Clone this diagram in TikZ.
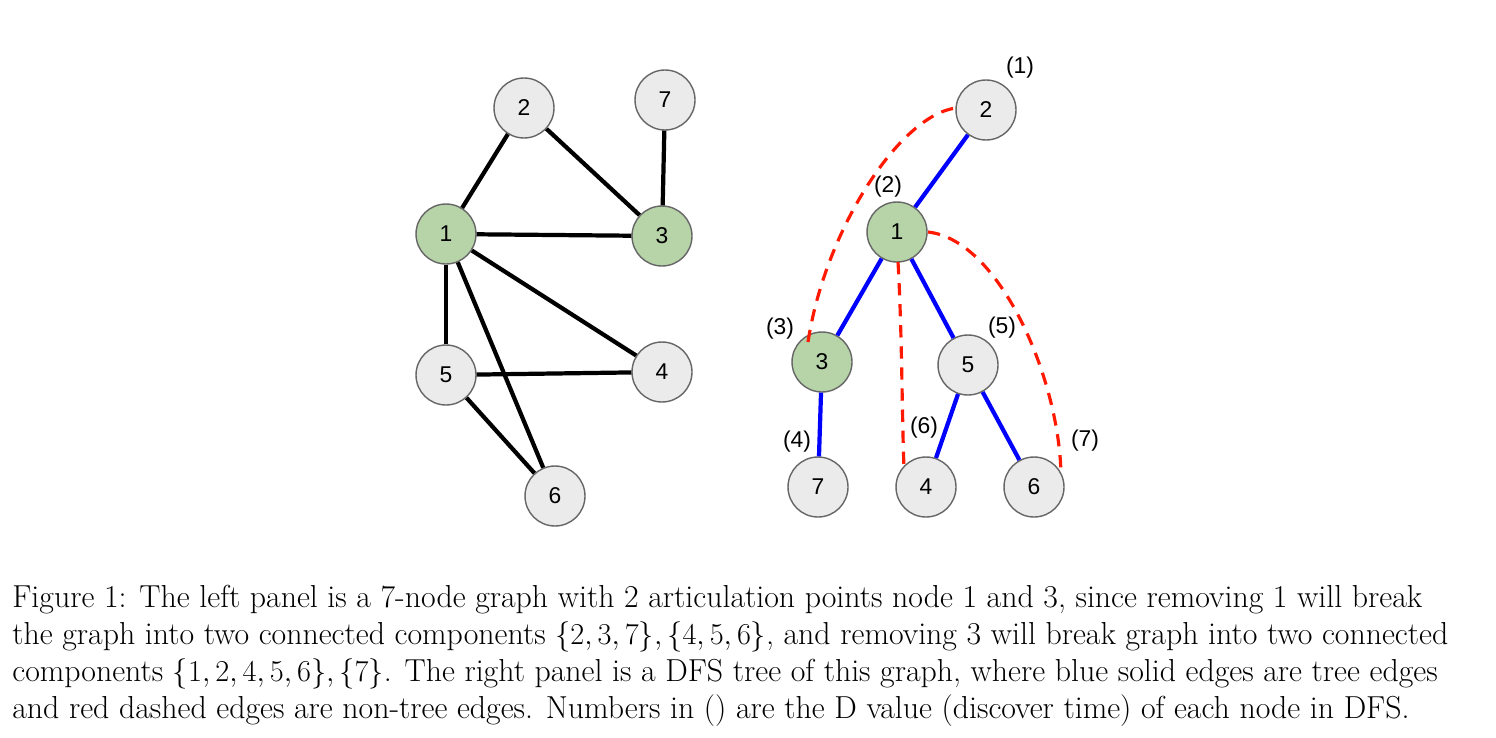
\documentclass[tikz,border=0pt]{standalone}
\usepackage{fontspec}
\newfontfamily\sansf{Liberation Sans}
\usepackage{amsmath}
\begin{document}
\begin{tikzpicture}[x=0.02cm,y=-0.02cm,
  v/.style={circle,draw=black!60,line width=0.8pt,fill=black!8,minimum size=1.2cm,inner sep=0pt,font=\sansf\fontsize{13}{15}\selectfont},
  g/.style={v,fill={rgb,255:red,182;green,212;blue,168}},
  lbl/.style={font=\sansf\fontsize{13}{15}\selectfont},
  blk/.style={line width=2.4pt,black},
  tree/.style={line width=2.4pt,blue},
  back/.style={line width=1.8pt,red!80!orange,dash pattern=on 7pt off 5pt}]
\useasboundingbox (0,0) rectangle (1496,737);
% left
\node[v] (a2) at (524,108) {2};
\node[v] (a7) at (665,100) {7};
\node[g] (a1) at (446,234) {1};
\node[g] (a3) at (662,236) {3};
\node[v] (a5) at (446,375) {5};
\node[v] (a4) at (662,372) {4};
\node[v] (a6) at (555,496) {6};
\draw[blk] (a1)--(a2); \draw[blk] (a2)--(a3); \draw[blk] (a7)--(a3);
\draw[blk] (a1)--(a3); \draw[blk] (a1)--(a5); \draw[blk] (a1)--(a4);
\draw[blk] (a1)--(a6); \draw[blk] (a5)--(a4); \draw[blk] (a5)--(a6);
% right
\node[v] (b2) at (986,110) {2};
\node[g] (b1) at (897,232) {1};
\node[g] (b3) at (822,362) {3};
\node[v] (b5) at (968,365) {5};
\node[v] (b7) at (818,487) {7};
\node[v] (b4) at (926,487) {4};
\node[v] (b6) at (1034,487) {6};
\draw[tree] (b2)--(b1); \draw[tree] (b1)--(b3); \draw[tree] (b1)--(b5);
\draw[tree] (b3)--(b7); \draw[tree] (b5)--(b4); \draw[tree] (b5)--(b6);
\coordinate (e3) at (808,342); \coordinate (e2) at (956,108);
\coordinate (f4) at (904,468); \coordinate (f1) at (898,262);
\coordinate (g1) at (928,232); \coordinate (g6) at (1061,476);
\draw[back] (e3) .. controls (825,230) and (900,115) .. (e2);
\draw[back] (f1) .. controls (902,330) and (902,420) .. (f4);
\draw[back] (g1) .. controls (1000,240) and (1060,380) .. (g6);
\node[lbl] (l1) at (1020,68) {(1)};
\node[lbl] (l2) at (888,187) {(2)};
\node[lbl] (l3) at (780,329) {(3)};
\node[lbl] (l5) at (1002,328) {(5)};
\node[lbl] (l4) at (797,442) {(4)};
\node[lbl] (l6) at (924,428) {(6)};
\node[lbl] (l7) at (1085,441) {(7)};
\node[anchor=north west,inner sep=0pt,align=left,font=\fontsize{18.1}{21}\selectfont] (cap) at (12,585) {Figure 1: The left panel is a 7-node graph with 2 articulation points node 1 and 3, since removing 1 will break\\the graph into two connected components $\{2,3,7\},\{4,5,6\}$, and removing 3 will break graph into two connected\\components $\{1,2,4,5,6\},\{7\}$. The right panel is a DFS tree of this graph, where blue solid edges are tree edges\\and red dashed edges are non-tree edges. Numbers in () are the D value (discover time) of each node in DFS.};
\end{tikzpicture}
\end{document}
